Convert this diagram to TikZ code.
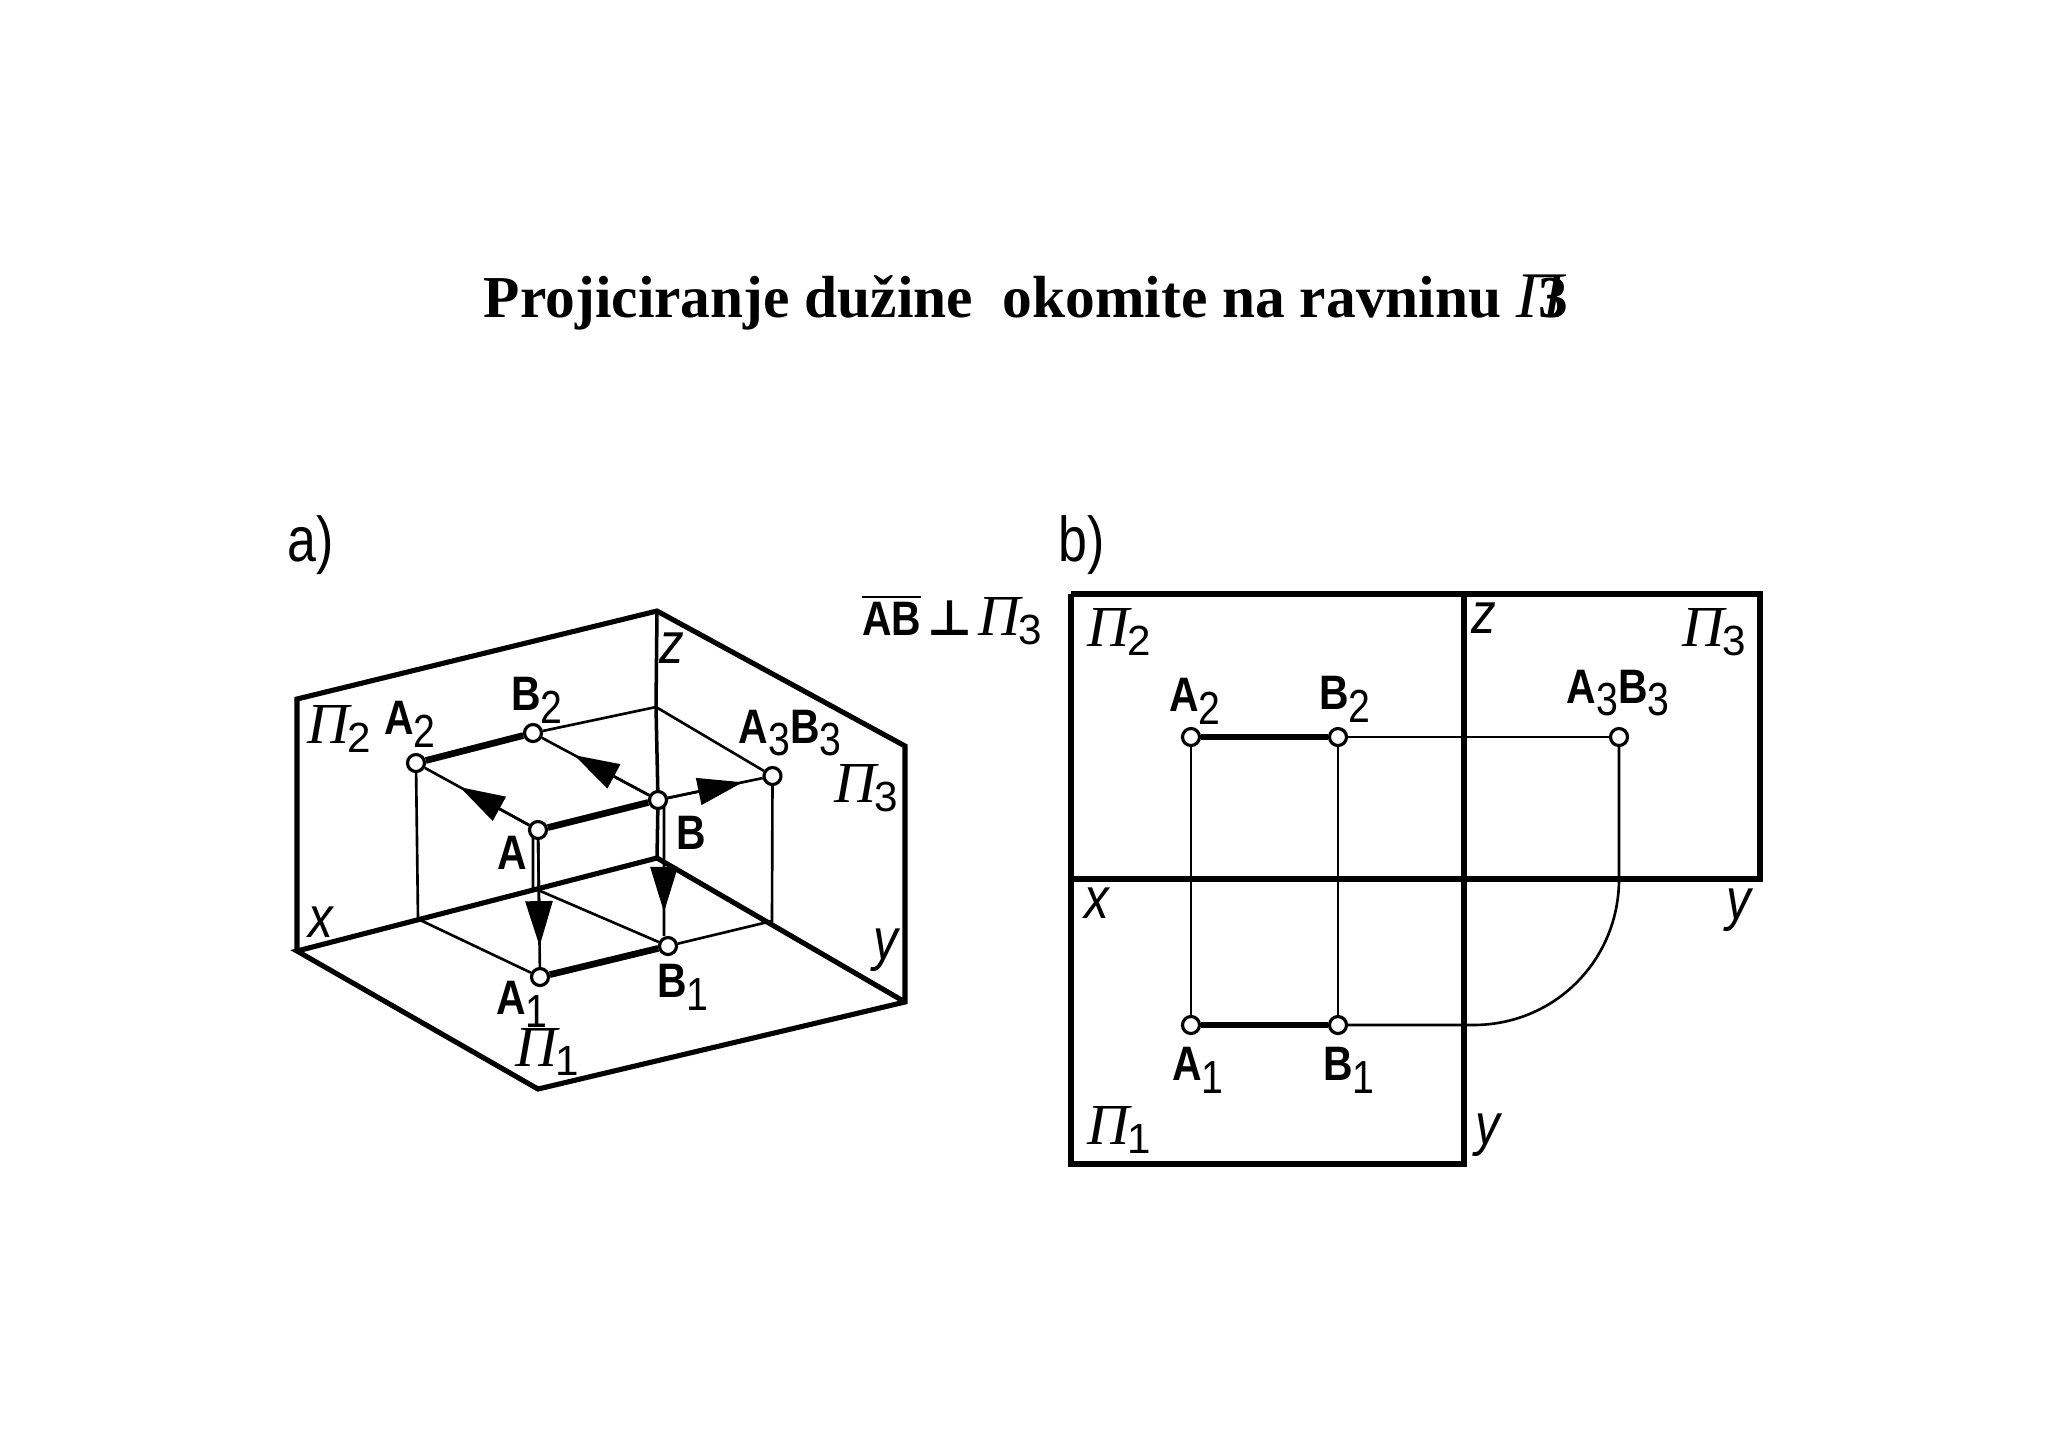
\documentclass[tikz,border=0pt]{standalone}
\usepackage{fontspec}
\setmainfont{Liberation Sans}
\newfontfamily\tmsfont{Liberation Serif}
\newfontfamily\djvfont{DejaVu Sans}
\usetikzlibrary{arrows.meta,calc}
\newcommand{\subd}[1]{\raisebox{-.5ex}{\fontsize{12}{12}\selectfont\mdseries #1}}
\newcommand{\ravn}[1]{{\tmsfont\itshape\fontsize{16.5}{18}\selectfont Π}\kern-.05em\subd{#1}}
\newcommand{\osi}[1]{\scalebox{.85}[1]{\itshape\fontsize{16.5}{17}\selectfont #1}}
\newcommand{\pan}[1]{\scalebox{.82}[1]{\fontsize{18}{18}\selectfont #1}}
\newcommand{\oz}[1]{\scalebox{.93}[1.1]{#1}}
\tikzset{
    frame/.style={line width=1.45pt},
    midl/.style={line width=1pt},
    thinl/.style={line width=.75pt},
    heavy/.style={line width=1.9pt},
    pt/.style={circle,draw,line width=.9pt,fill=white,inner sep=0pt,minimum size=.17cm},
    lab/.style={font=\bfseries\fontsize{12.5}{13}\selectfont,inner sep=0pt},
    txt/.style={inner sep=0pt},
    pil/.style={-{Triangle[length=.45cm,width=.27cm]}}
}
\begin{document}
\begin{tikzpicture}[x=.01cm,y=-.01cm]
    \useasboundingbox (0,0) rectangle (2048,1447);
    \node[txt,font=\tmsfont\bfseries\fontsize{16.9}{20}\selectfont] (title) at (1026,303)
        {Projiciranje dužine\ \ okomite na ravninu {\mdseries\itshape\fontsize{18.5}{20}\selectfont Π}\kern-.42em 3};
    % a)
    \node[txt] (la) at (311,545) {\pan{a)}};
    \coordinate (top) at (657,611);
    \coordinate (lt) at (297,699);
    \coordinate (lb) at (297,951);
    \coordinate (rt) at (905,746);
    \coordinate (rb) at (905,1002);
    \coordinate (cen) at (657,858);
    \coordinate (bot) at (538,1089);
    \coordinate (z2) at (656,707);
    \coordinate (fa2) at (418,919);
    \coordinate (fa) at (538,890);
    \coordinate (fa3) at (772,921);
    \coordinate (a0) at (533,837);
    \coordinate (b0) at (664,807);
    \coordinate (tb1) at (664,912);
    \node[pt] (a2) at (416,763) {};
    \node[pt] (b2) at (533,733) {};
    \node[pt] (a3) at (772.5,776) {};
    \node[pt] (b) at (658,800) {};
    \node[pt] (a) at (538,830) {};
    \node[pt] (a1) at (540,977) {};
    \node[pt] (b1) at (668,946) {};
    \draw[frame] (lb) -- (lt) -- (top) -- (rt) -- (rb) -- (bot) -- (lb) -- (cen) -- (rb);
    \draw[midl] (top) -- (z2) -- (b) -- (cen);
    \draw[thinl] (z2) -- (b2) (z2) -- (a3) (b2) -- (b) (a2) -- (a) (b) -- (a3);
    \draw[thinl] (a2) -- (fa2) -- (a1) (a3) -- (fa3) -- (b1) (fa) -- (b1);
    \draw[thinl] (a0) -- (a0 |- fa) (b0) -- (b0 |- b1.north) (a) -- (a1);
    \draw[heavy] (a2) -- (b2) (a) -- (b) (a1) -- (b1);
    \draw[thinl,pil] (a) -- ($(a)!.64!(a2)$);
    \draw[thinl,pil] (b) -- ($(b)!.67!(b2)$);
    \draw[thinl,pil] (b) -- ($(b)!.74!(a3)$);
    \draw[thinl,pil] (a) -- ($(a)!.79!(a1)$);
    \draw[thinl,pil] (b0) -- (tb1);
    \node[txt] (perp) at (952,620) {\oz{\bfseries\fontsize{12.5}{13}\selectfont
        $\overline{\hbox{AB}}$}\,{\djvfont\bfseries\fontsize{14}{14}\selectfont ⊥}\,\ravn{3}};
    \node[txt] (zl) at (672,648) {\osi{z}};
    \node[txt] (xl) at (321,922) {\osi{x}};
    \node[txt] (yl) at (886,950) {\osi{y}};
    \node[txt] (p2) at (339,729) {\ravn{2}};
    \node[txt] (p3) at (866,788) {\ravn{3}};
    \node[txt] (p1) at (547,1052) {\ravn{1}};
    \node[lab] (la2) at (410,724) {\oz{A\subd{2}}};
    \node[lab] (lb2) at (537,700) {\oz{B\subd{2}}};
    \node[lab] (la3) at (790,733) {\oz{A\subd{3}B\subd{3}}};
    \node[lab] (lbb) at (691,833) {\oz{B}};
    \node[lab] (laa) at (512,853) {\oz{A}};
    \node[lab] (lb1) at (683,987) {\oz{B\subd{1}}};
    \node[lab] (la1) at (522,1004) {\oz{A\subd{1}}};
    % b)
    \node[txt] (lbp) at (1082,545) {\pan{b)}};
    \coordinate (tl) at (1071,594);
    \coordinate (tm) at (1464,594);
    \coordinate (tr) at (1760,594);
    \coordinate (ml) at (1071,879);
    \coordinate (mm) at (1464,879);
    \coordinate (mr) at (1760,879);
    \coordinate (bl) at (1071,1164);
    \coordinate (bm) at (1464,1164);
    \coordinate (r1) at (1619,879);
    \coordinate (r2) at (1473,1025);
    \node[pt] (ba2) at (1191,737) {};
    \node[pt] (bb2) at (1338,737) {};
    \node[pt] (ba3) at (1619,737) {};
    \node[pt] (ba1) at (1191,1025) {};
    \node[pt] (bb1) at (1338,1025) {};
    \draw[frame] (tl) -- (tr) -- (mr) -- (ml) (tl) -- (bl) -- (bm) -- (tm);
    \draw[thinl] (ba2) -- (ba1) (bb2) -- (bb1) (bb2) -- (ba3);
    \draw[thinl] (ba3) -- (r1) .. controls (1619,960) and (1555,1025) .. (r2) -- (bb1);
    \draw[heavy] (ba2) -- (bb2) (ba1) -- (bb1);
    \node[txt] (bp2) at (1119,632) {\ravn{2}};
    \node[txt] (bp3) at (1714,632) {\ravn{3}};
    \node[txt] (bp1) at (1119,1130) {\ravn{1}};
    \node[txt] (bz) at (1484,618) {\osi{z}};
    \node[txt] (bx) at (1097,903) {\osi{x}};
    \node[txt] (by) at (1739,910) {\osi{y}};
    \node[txt] (by2) at (1488,1135) {\osi{y}};
    \node[lab] (bla2) at (1195,701) {\oz{A\subd{2}}};
    \node[lab] (blb2) at (1345,699) {\oz{B\subd{2}}};
    \node[lab] (bla3) at (1618,693) {\oz{A\subd{3}B\subd{3}}};
    \node[lab] (bla1) at (1198,1070) {\oz{A\subd{1}}};
    \node[lab] (blb1) at (1349,1070) {\oz{B\subd{1}}};
\end{tikzpicture}
\end{document}
